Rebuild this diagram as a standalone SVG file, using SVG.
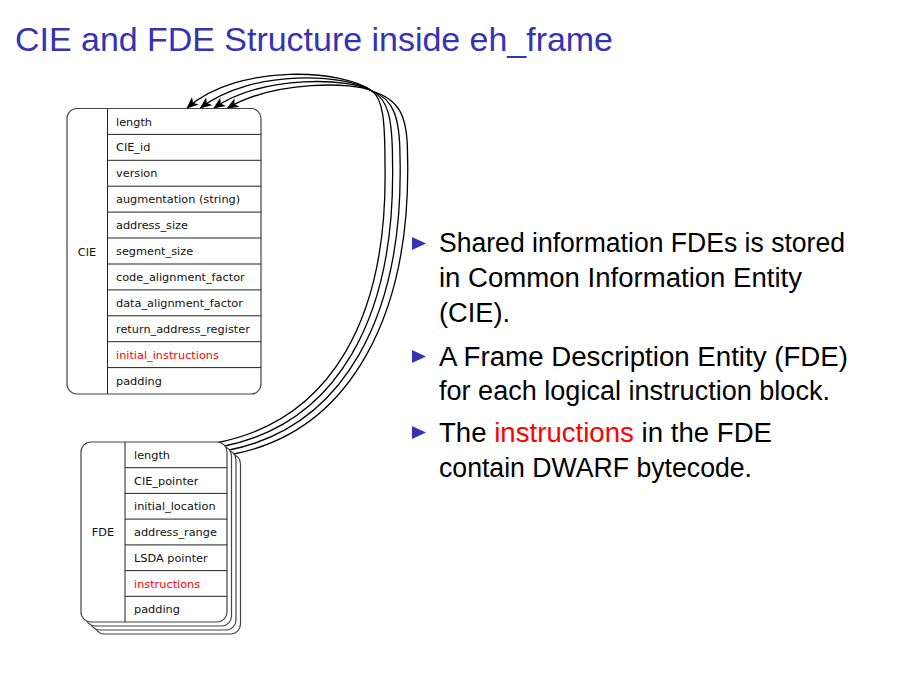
<svg xmlns="http://www.w3.org/2000/svg" width="906" height="676" viewBox="0 0 906 676">
<style>
.box{fill:#fff;stroke:#444;stroke-width:1.2}
.sep{stroke:#222;stroke-width:1}
.f{font-family:"DejaVu Sans",Verdana,sans-serif;font-size:11.3px;fill:#111}
.red{fill:#ff0000}
.title{font-family:"Liberation Sans",Arial,sans-serif;font-size:34px;fill:#3333b3}
.body{font-family:"Liberation Sans",Arial,sans-serif;font-size:27px;fill:#000}
.bul{fill:#3333b3}
.con{fill:none;stroke:#000;stroke-width:1.3}
</style>
<defs>
<marker id="ah" viewBox="0 0 12 10" refX="11" refY="5" markerWidth="12" markerHeight="10" markerUnits="userSpaceOnUse" orient="auto">
<path d="M0,0 L12,5 L0,10 L3,5 z" fill="#000"/>
</marker>
</defs>
<rect width="906" height="676" fill="#fff"/>
<text class="title" x="15" y="51" textLength="598" lengthAdjust="spacingAndGlyphs">CIE and FDE Structure inside eh_frame</text>

<g id="connectors">
<path class="con" marker-end="url(#ah)" d="M218 442.5 C330 420,388 320,385 165 C385 120,383 99,372 91 C345 70,240 62,187 108"/>
<path class="con" marker-end="url(#ah)" d="M222.5 446.5 C337 424,396 318,392.5 161 C392.5 118,388 99,372 91 C348 74,252 68,200.5 108"/>
<path class="con" marker-end="url(#ah)" d="M227 450.5 C344 428,404 316,400 157 C400 116,393 99,372 91 C351 78,264 74,214 108"/>
<path class="con" marker-end="url(#ah)" d="M231.5 454.5 C351 432,412 314,407.5 153 C407.5 114,398 99,372 91 C354 82,276 80,227.5 108"/>
</g>

<g id="cie">
<rect class="box" x="67" y="108.5" width="194" height="285.5" rx="10"/>
<line class="sep" x1="107.5" y1="108.5" x2="107.5" y2="394"/>
<g class="sep">
<line x1="107.5" y1="134.4" x2="261" y2="134.4"/>
<line x1="107.5" y1="160.3" x2="261" y2="160.3"/>
<line x1="107.5" y1="186.2" x2="261" y2="186.2"/>
<line x1="107.5" y1="212.1" x2="261" y2="212.1"/>
<line x1="107.5" y1="238" x2="261" y2="238"/>
<line x1="107.5" y1="264" x2="261" y2="264"/>
<line x1="107.5" y1="289.9" x2="261" y2="289.9"/>
<line x1="107.5" y1="315.8" x2="261" y2="315.8"/>
<line x1="107.5" y1="341.7" x2="261" y2="341.7"/>
<line x1="107.5" y1="367.6" x2="261" y2="367.6"/>
</g>
<text class="f" x="87" y="256" text-anchor="middle">CIE</text>
<text class="f" x="116" y="125.5">length</text>
<text class="f" x="116" y="151.4">CIE_id</text>
<text class="f" x="116" y="177.3">version</text>
<text class="f" x="116" y="203.2">augmentation (string)</text>
<text class="f" x="116" y="229.1">address_size</text>
<text class="f" x="116" y="255">segment_size</text>
<text class="f" x="116" y="280.9">code_alignment_factor</text>
<text class="f" x="116" y="306.8">data_alignment_factor</text>
<text class="f" x="116" y="332.7">return_address_register</text>
<text class="f red" x="116" y="358.6">initial_instructions</text>
<text class="f" x="116" y="384.5">padding</text>
</g>

<g id="fde">
<rect class="box" x="94.5" y="454" width="146" height="180" rx="10"/>
<rect class="box" x="90" y="450" width="146" height="180" rx="10"/>
<rect class="box" x="85.5" y="446" width="146" height="180" rx="10"/>
<rect class="box" x="81" y="442" width="146" height="180" rx="10"/>
<line class="sep" x1="125" y1="442" x2="125" y2="622"/>
<g class="sep">
<line x1="125" y1="467.7" x2="227" y2="467.7"/>
<line x1="125" y1="493.4" x2="227" y2="493.4"/>
<line x1="125" y1="519.1" x2="227" y2="519.1"/>
<line x1="125" y1="544.9" x2="227" y2="544.9"/>
<line x1="125" y1="570.6" x2="227" y2="570.6"/>
<line x1="125" y1="596.3" x2="227" y2="596.3"/>
</g>
<text class="f" x="103" y="536" text-anchor="middle">FDE</text>
<text class="f" x="134" y="459">length</text>
<text class="f" x="134" y="484.7">CIE_pointer</text>
<text class="f" x="134" y="510.4">initial_location</text>
<text class="f" x="134" y="536.1">address_range</text>
<text class="f" x="134" y="561.9">LSDA pointer</text>
<text class="f red" x="134" y="587.6">instructions</text>
<text class="f" x="134" y="613.3">padding</text>
</g>

<g id="bullets">
<polygon class="bul" points="412,237 426,243.5 412,250"/>
<polygon class="bul" points="412,350 426,356.5 412,363"/>
<polygon class="bul" points="412,426 426,432.5 412,439"/>
<text class="body" x="439" y="252" textLength="406" lengthAdjust="spacingAndGlyphs">Shared information FDEs is stored</text>
<text class="body" x="439" y="287" textLength="363" lengthAdjust="spacingAndGlyphs">in Common Information Entity</text>
<text class="body" x="439" y="322" textLength="71" lengthAdjust="spacingAndGlyphs">(CIE).</text>
<text class="body" x="439" y="366" textLength="409" lengthAdjust="spacingAndGlyphs">A Frame Description Entity (FDE)</text>
<text class="body" x="439" y="400" textLength="391" lengthAdjust="spacingAndGlyphs">for each logical instruction block.</text>
<text class="body" x="439" y="442" textLength="333" lengthAdjust="spacingAndGlyphs">The <tspan class="red">instructions</tspan> in the FDE</text>
<text class="body" x="439" y="477" textLength="313" lengthAdjust="spacingAndGlyphs">contain DWARF bytecode.</text>
</g>
</svg>
